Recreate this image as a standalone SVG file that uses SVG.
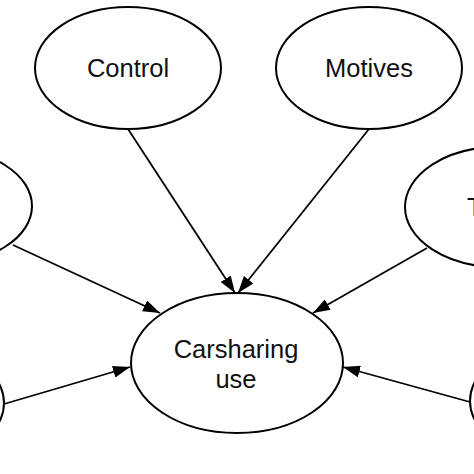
<svg xmlns="http://www.w3.org/2000/svg" width="474" height="474" viewBox="0 0 474 474">
<style>
.n{fill:#fff;stroke:#000;stroke-width:2}
.t{font-family:"Liberation Sans",Arial,sans-serif;font-size:25.5px;fill:#111;text-anchor:middle}
.c{stroke:#000;stroke-width:1.8;fill:none;marker-end:url(#ah)}
</style>
<defs>
<marker id="ah" viewBox="0 0 17 12" refX="17" refY="6" markerWidth="17" markerHeight="12" markerUnits="userSpaceOnUse" orient="auto">
<path d="M0,0 L17,6 L0,12 Z" fill="#000"/>
</marker>
</defs>
<rect width="474" height="474" fill="#fff"/>
<g id="connectors">
<line class="c" x1="128" y1="129" x2="235" y2="293"/>
<line class="c" x1="369" y1="129" x2="238" y2="293"/>
<line class="c" x1="13" y1="245" x2="160" y2="313"/>
<line class="c" x1="427" y1="248" x2="313" y2="313"/>
<line class="c" x1="4" y1="404" x2="130" y2="367"/>
<line class="c" x1="470" y1="402" x2="343" y2="367"/>
</g>
<g id="control"><ellipse class="n" cx="128" cy="68" rx="93" ry="61"/><text class="t" x="128" y="77">Control</text></g>
<g id="motives"><ellipse class="n" cx="369" cy="68" rx="93" ry="61"/><text class="t" x="369" y="77">Motives</text></g>
<g id="left"><ellipse class="n" cx="-61" cy="206" rx="93" ry="58"/></g>
<g id="right"><ellipse class="n" cx="498" cy="207" rx="93" ry="60"/><text class="t" x="467" y="216" style="text-anchor:start">T</text></g>
<g id="bottom-left"><ellipse class="n" cx="-89" cy="403" rx="93" ry="60"/></g>
<g id="bottom-right"><ellipse class="n" cx="563" cy="401" rx="93" ry="60"/></g>
<g id="carsharing"><ellipse class="n" cx="237" cy="363" rx="106" ry="70"/><text class="t" x="236" y="358">Carsharing</text><text class="t" x="236" y="388">use</text></g>
</svg>
